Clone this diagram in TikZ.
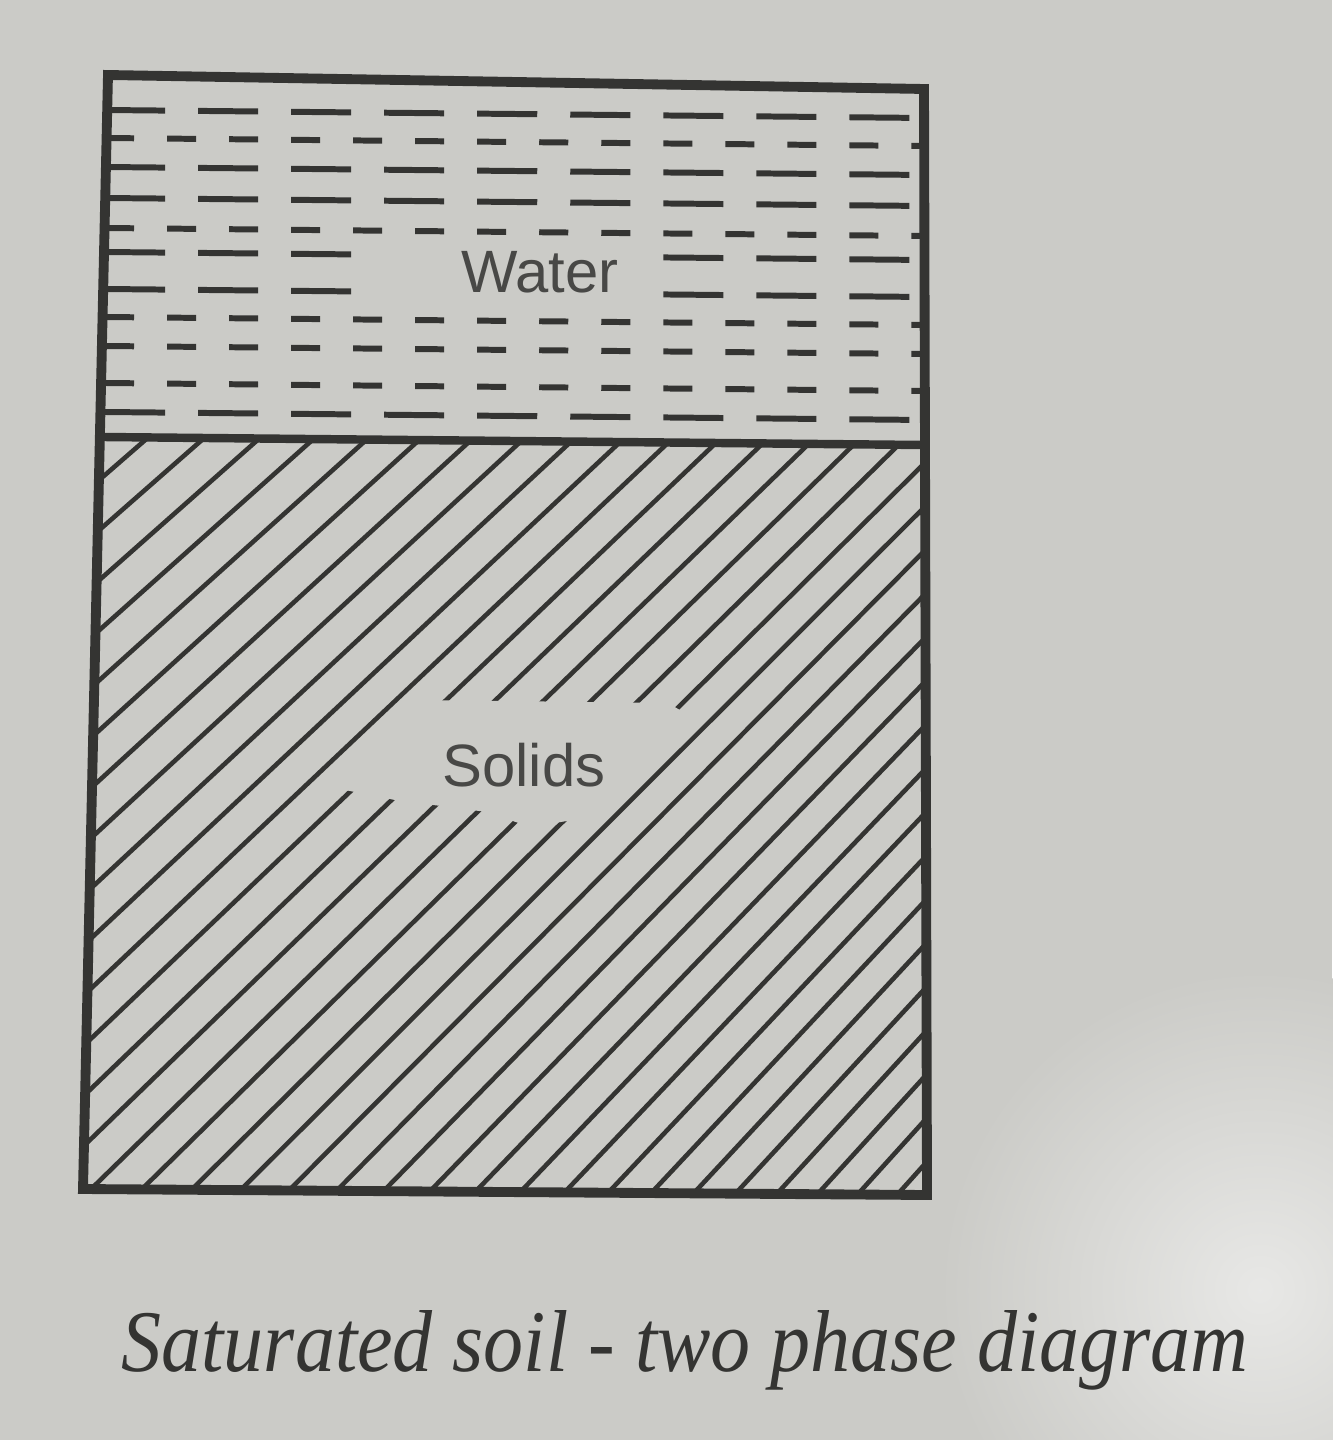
\documentclass[tikz,border=0pt]{standalone}
\usepackage{fontspec}
\usepackage{graphicx}
\setmainfont{Liberation Serif}
\setsansfont{Liberation Sans}
\usetikzlibrary{calc}
\definecolor{paper}{RGB}{203,203,199}
\definecolor{ink}{RGB}{52,52,50}
\begin{document}
\begin{tikzpicture}[
  x=0.01cm, y=-0.01cm,
  boxline/.style={draw=ink, line width=2.8pt, line join=miter},
  longdash/.style={ink, line width=1.7pt, dash pattern=on 0.6cm off 0.33cm},
  shortdash/.style={ink, line width=1.7pt, dash pattern=on 0.29cm off 0.33cm},
  hatch/.style={ink, line width=1.3pt},
  phase/.style={font=\sffamily\fontsize{17}{20}\selectfont, text=ink!90},
  caption/.style={font=\itshape\fontsize{25}{30}\selectfont, text=ink}
]
% paper
\useasboundingbox (0,0) rectangle (1332,1440);
\fill[paper] (0,0) rectangle (1332,1440);
\shade[inner color=white!55!paper, outer color=paper] (1260,1290) circle (320);

% corners of the container
\coordinate (tl) at (108,75);
\coordinate (tr) at (924,89);
\coordinate (br) at (927,1195);
\coordinate (bl) at (83,1189);
\coordinate (dl) at (103,437);
\coordinate (dr) at (923,445);

% water
\begin{scope}
  \clip (tl) -- (tr) -- (dr) -- (dl) -- cycle;
  \foreach \y/\kind in {110/longdash, 138/shortdash, 167/longdash,
                        198/longdash, 228/shortdash, 252/longdash,
                        289/longdash, 317/shortdash, 346/shortdash,
                        383/shortdash, 412/longdash}
    \draw[\kind] (105,\y) -- (925,\y+8);
\end{scope}
\fill[paper] (360,240) rectangle (634,302);

% solids, lines a little steeper towards the bottom right
\begin{scope}
  \clip (dl) -- (dr) -- (br) -- (bl) -- cycle;
  \foreach \k in {0,...,33} {
    \pgfmathsetmacro\m{0.87+0.25*\k/33}
    \pgfmathsetmacro\p{127+47*\k}
    \draw[hatch] (40,\p+\m*465) -- (990,\p-\m*485);
  }
\end{scope}
\fill[paper] (330,787) -- (421,700) -- (668,703) -- (700,722)
  -- (604,815) -- (530,827) -- (487,812) -- (395,800) -- cycle;

% outline
\draw[boxline] (tl) -- (tr) -- (br) -- (bl) -- cycle;
\draw[boxline, line width=2.4pt] (dl) -- (dr);

\node[phase] (water) at (540,272) {Water};
\node[phase] (solids) at (524,765) {Solids};
\node[caption] (title) at (685,1350) {\scalebox{0.91}[1]{Saturated soil - two phase diagram}};
\end{tikzpicture}
\end{document}
